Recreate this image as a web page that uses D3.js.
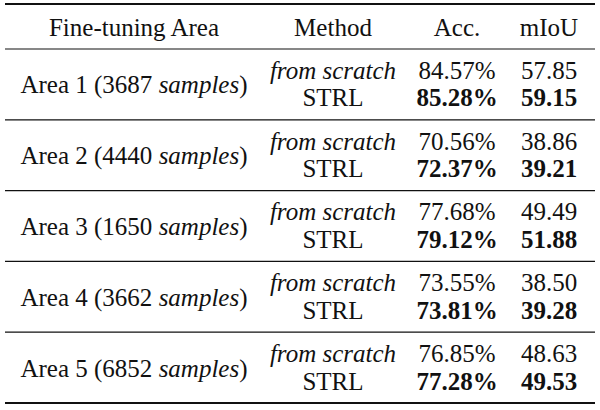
<!DOCTYPE html><html><head><meta charset="utf-8"><script src="https://cdn.jsdelivr.net/npm/d3@7"></script>
<style>body{margin:0;background:#fff}</style></head><body><svg id="c" width="600" height="410"></svg>
<script>
const headers=["Fine-tuning Area","Method","Acc.","mIoU"];
const areas=["Area 1","Area 2","Area 3","Area 4","Area 5"];
const samples=[3687,4440,1650,3662,6852];
const methods=["from scratch","STRL"];
const accScratch=[84.57,70.56,77.68,73.55,76.85];
const accSTRL=[85.28,72.37,79.12,73.81,77.28];
const miouScratch=[57.85,38.86,49.49,38.50,48.63];
const miouSTRL=[59.15,39.21,51.88,39.28,49.53];

const svg=d3.select("#c");
const F="'Liberation Serif','Times New Roman',serif";
const colX=[134,333,457,549];
const y=d3.scaleLinear().domain([0,5]).range([49,403]);
const fs=25;
function t(x,yy,s,o={}){const e=svg.append("text").attr("x",x).attr("y",yy).attr("text-anchor","middle").attr("dominant-baseline","central").attr("font-family",F).attr("font-size",fs).attr("fill","#111").text(s);if(o.b)e.attr("font-weight","bold");if(o.i)e.attr("font-style","italic");return e;}
headers.forEach((h,i)=>t(colX[i],27,h));
function line(yy,w){svg.append("line").attr("x1",5).attr("x2",595).attr("y1",yy).attr("y2",yy).attr("stroke","#111").attr("stroke-width",w);}
line(4,2.2);line(49,1.2);
areas.forEach((a,i)=>{
 const y0=y(i),y1=y(i+1),h=y1-y0;
 const txt=t(colX[0],y0+h/2,"");
 txt.append("tspan").text(a+" ("+samples[i]+" ");
 txt.append("tspan").attr("font-style","italic").text("samples");
 txt.append("tspan").text(")");
 const r1=y0+h*0.3,r2=y0+h*0.69;
 t(colX[1],r1,methods[0],{i:1});t(colX[1],r2,methods[1]);
 t(colX[2],r1,accScratch[i].toFixed(2)+"%");t(colX[2],r2,accSTRL[i].toFixed(2)+"%",{b:1});
 t(colX[3],r1,miouScratch[i].toFixed(2));t(colX[3],r2,miouSTRL[i].toFixed(2),{b:1});
 line(y1,i==4?2.2:1.2);
});
</script></body></html>
